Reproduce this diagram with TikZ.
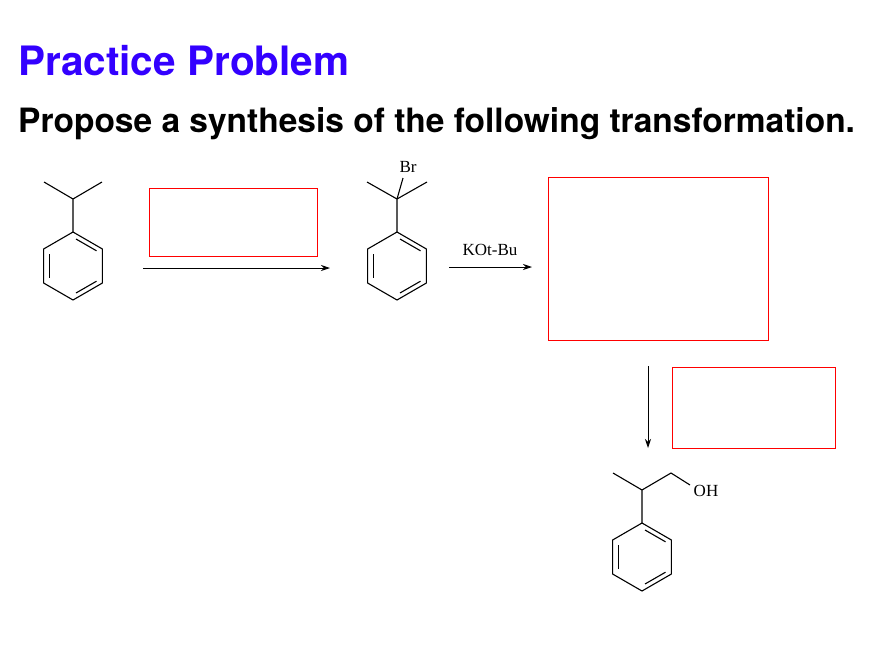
\documentclass[tikz,border=0pt]{standalone}
\usepackage{fontspec}
\setmainfont{Liberation Serif}
\newfontfamily\heros{TeX Gyre Heros}
\usetikzlibrary{arrows.meta}
\definecolor{ttl}{HTML}{3300FF}
\tikzset{
  bond/.style={line width=1.1pt},
  redbox/.style={draw=red, line width=0.9pt},
  rxn/.style={line width=0.9pt, -{Stealth[length=9pt,width=6pt]}},
  lbl/.style={inner sep=0pt, font=\fontsize{17}{17}\selectfont},
}
\begin{document}
\begin{tikzpicture}[x=1pt,y=-1pt]
\useasboundingbox (0,0) rectangle (878,665);
\node[anchor=base west, inner sep=0pt, text=ttl, font=\heros\bfseries\fontsize{40.5}{40.5}\selectfont] (title) at (18,75) {Practice Problem};
\node[anchor=base west, inner sep=0pt, font=\heros\bfseries\fontsize{33.5}{33.5}\selectfont] (sub) at (18,132) {Propose a synthesis of the following transformation.};
% ring macro
\def\ring#1#2{%
  \begin{scope}[shift={(#1,#2)}]
  \draw[bond] (0,-34)--(29.4,-17)--(29.4,17)--(0,34)--(-29.4,17)--(-29.4,-17)--cycle;
  \draw[bond] (3,-27)--(23.5,-15.2);
  \draw[bond] (23.5,15.2)--(3,27);
  \draw[bond] (-23.5,-12)--(-23.5,12);
  \end{scope}}
% molecule 1
\ring{73}{266}
\coordinate (c1) at (73,199);
\draw[bond] (73,232)--(c1) (44,182)--(c1)--(102,182);
% molecule 2
\ring{397}{266}
\coordinate (c2) at (397,199);
\node[lbl] (br) at (408,167) {Br};
\draw[bond] (397,232)--(c2) (367,182)--(c2)--(427,182);
\draw[bond] (c2)--(403,178);
% molecule 3
\ring{642}{557}
\coordinate (c3) at (642,490);
\coordinate (m3) at (613,473);
\coordinate (ch2) at (671,473);
\node[lbl] (oh) at (706,491) {OH};
\draw[bond] (642,523)--(c3) (m3)--(c3)--(ch2)--(690,485);
% boxes
\draw[redbox] (149,188) rectangle (317,256);
\draw[redbox] (548,177) rectangle (768,340);
\draw[redbox] (672,367) rectangle (835,448);
% arrows
\coordinate (a1s) at (143,268); \coordinate (a1e) at (330,268);
\draw[rxn] (a1s)--(a1e);
\coordinate (a2s) at (449,267); \coordinate (a2e) at (532,267);
\draw[rxn] (a2s)--(a2e);
\node[lbl] (kot) at (490,250) {KOt-Bu};
\coordinate (a3s) at (648,366); \coordinate (a3e) at (648,448);
\draw[rxn] (a3s)--(a3e);
\end{tikzpicture}
\end{document}
